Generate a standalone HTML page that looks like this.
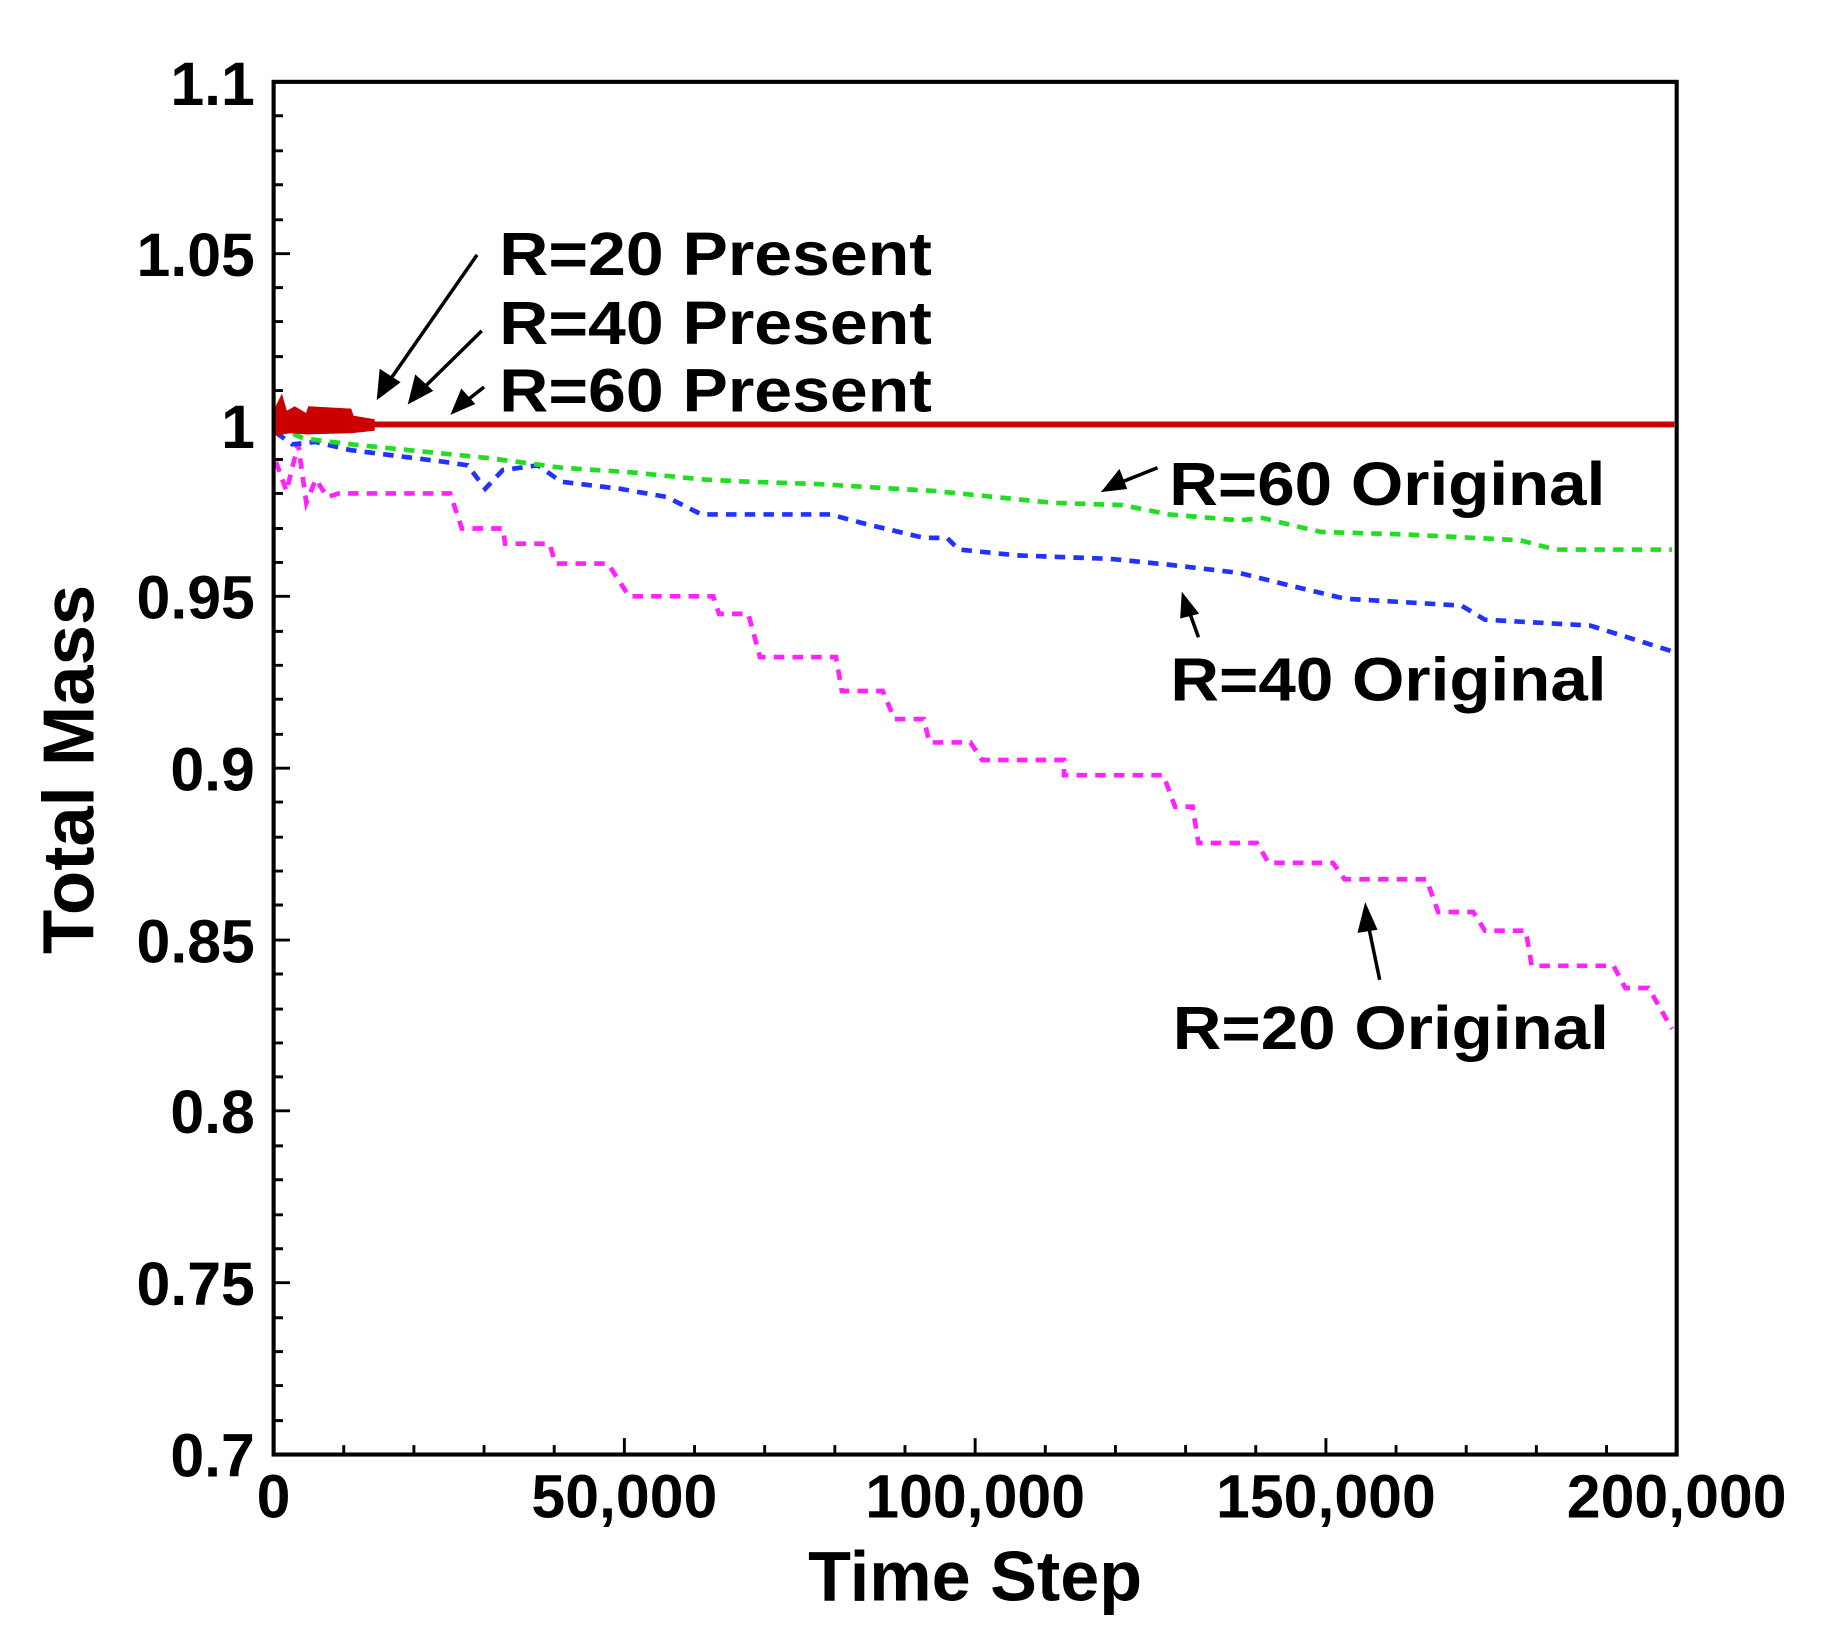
<!DOCTYPE html>
<html><head><meta charset="utf-8"><style>html,body{margin:0;padding:0;background:#fff}svg{display:block}</style></head>
<body>
<svg width="1824" height="1636" viewBox="0 0 1560 1399.2" preserveAspectRatio="none" xmlns="http://www.w3.org/2000/svg" font-family="Liberation Sans, Arial, sans-serif" font-weight="bold">
<rect width="1560" height="1400" fill="#fff"/>
<g stroke="#000" stroke-width="2.5">
<path d="M234 70H248M234 217H248M234 363.5H248M234 510H248M234 657H248M234 804H248M234 950H248M234 1097H248M234 1244H248"/>
<path d="M234 99H242M234 129H242M234 158H242M234 188H242M234 246H242M234 275H242M234 305H242M234 334H242M234 393H242M234 422H242M234 452H242M234 481H242M234 540H242M234 569H242M234 598H242M234 628H242M234 686H242M234 716H242M234 745H242M234 774H242M234 833H242M234 863H242M234 892H242M234 921H242M234 980H242M234 1009H242M234 1039H242M234 1068H242M234 1127H242M234 1156H242M234 1185H242M234 1215H242"/>
<path d="M534 1244V1230M834 1244V1230M1134 1244V1230"/>
<path d="M294 1244V1236M354 1244V1236M414 1244V1236M474 1244V1236M594 1244V1236M654 1244V1236M714 1244V1236M774 1244V1236M894 1244V1236M954 1244V1236M1014 1244V1236M1074 1244V1236M1194 1244V1236M1254 1244V1236M1314 1244V1236M1374 1244V1236"/>
</g>
<g fill="none" stroke-width="4" stroke-dasharray="9 7">
<polyline stroke="#ff22ff" points="236,395 245,420 255,380 262,430 270,410 280,425 290,422 385,422 395,452 430,452 432,465 470,465 475,482 520,482 538,510 610,510 615,525 640,525 650,562 715,562 720,591 755,591 765,615 790,615 795,635 830,635 840,650 910,650 910,663 995,663 1005,690 1020,690 1025,721 1075,721 1085,738 1140,738 1150,752 1220,752 1230,780 1260,780 1270,796 1305,796 1310,826 1380,826 1390,845 1410,845 1430,880"/>
<polyline stroke="#2233ff" points="236,370 250,380 270,378 300,385 340,390 380,395 400,398 415,418 430,402 460,398 480,412 530,418 570,425 600,440 710,440 740,448 790,460 810,460 820,470 870,475 950,478 1000,483 1060,490 1100,500 1150,512 1250,518 1270,530 1360,535 1430,557"/>
<polyline stroke="#22dd22" points="236,365 260,375 300,380 350,385 420,392 480,400 540,404 600,410 640,412 700,414 800,420 900,430 960,432 1000,440 1060,445 1080,443 1100,448 1130,455 1200,457 1300,462 1330,470 1430,470"/>
</g>
<g fill="#cc0000" stroke="#cc0000">
<path d="M236 348 L241 338 L245 352 L252 348 L262 354 L264 348 L300 350 L302 356 L320 359 L320 368 L300 370 L262 371 L248 370 L236 372 Z" stroke-width="1"/>
<path d="M300 363H1432" stroke-width="5"/>
</g>
<rect x="234" y="70" width="1200" height="1174" fill="none" stroke="#000" stroke-width="3.5"/>
<g stroke="#000" stroke-width="3" fill="#000">
<line x1="408" y1="218" x2="330" y2="330"/><path d="M324 339 L326 318 L340 327 Z"/>
<line x1="412" y1="283" x2="358" y2="336"/><path d="M351 343 L356 323 L368 334 Z"/>
<line x1="414" y1="331" x2="395" y2="346"/><path d="M388 352 L395 335 L404 345 Z"/>
<line x1="990" y1="400" x2="955" y2="414"/><path d="M945 419 L957 404 L962 417 Z"/>
<line x1="1025" y1="545" x2="1016" y2="520"/><path d="M1012 510 L1023 524 L1011 527 Z"/>
<line x1="1180" y1="838" x2="1170" y2="790"/><path d="M1168 776 L1176 794 L1163 796 Z"/>
</g>
<g font-size="52" text-anchor="end">
<text x="218" y="90">1.1</text>
<text x="218" y="236">1.05</text>
<text x="218" y="383">1</text>
<text x="218" y="529">0.95</text>
<text x="218" y="676">0.9</text>
<text x="218" y="823">0.85</text>
<text x="218" y="969">0.8</text>
<text x="218" y="1116">0.75</text>
<text x="218" y="1263">0.7</text>
</g>
<g font-size="52" text-anchor="middle">
<text x="234" y="1298">0</text>
<text x="534" y="1298">50,000</text>
<text x="834" y="1298">100,000</text>
<text x="1134" y="1298">150,000</text>
<text x="1434" y="1298">200,000</text>
</g>
<text x="834" y="1369" font-size="60" text-anchor="middle">Time Step</text>
<text transform="translate(80,658) rotate(-90)" font-size="62" text-anchor="middle">Total Mass</text>
<g font-size="52">
<text x="427" y="235" textLength="370" lengthAdjust="spacingAndGlyphs">R=20 Present</text>
<text x="427" y="294" textLength="370" lengthAdjust="spacingAndGlyphs">R=40 Present</text>
<text x="427" y="352" textLength="370" lengthAdjust="spacingAndGlyphs">R=60 Present</text>
<text x="1000" y="432" textLength="373" lengthAdjust="spacingAndGlyphs">R=60 Original</text>
<text x="1001" y="599" textLength="373" lengthAdjust="spacingAndGlyphs">R=40 Original</text>
<text x="1003" y="897" textLength="373" lengthAdjust="spacingAndGlyphs">R=20 Original</text>
</g>
</svg>
</body></html>
